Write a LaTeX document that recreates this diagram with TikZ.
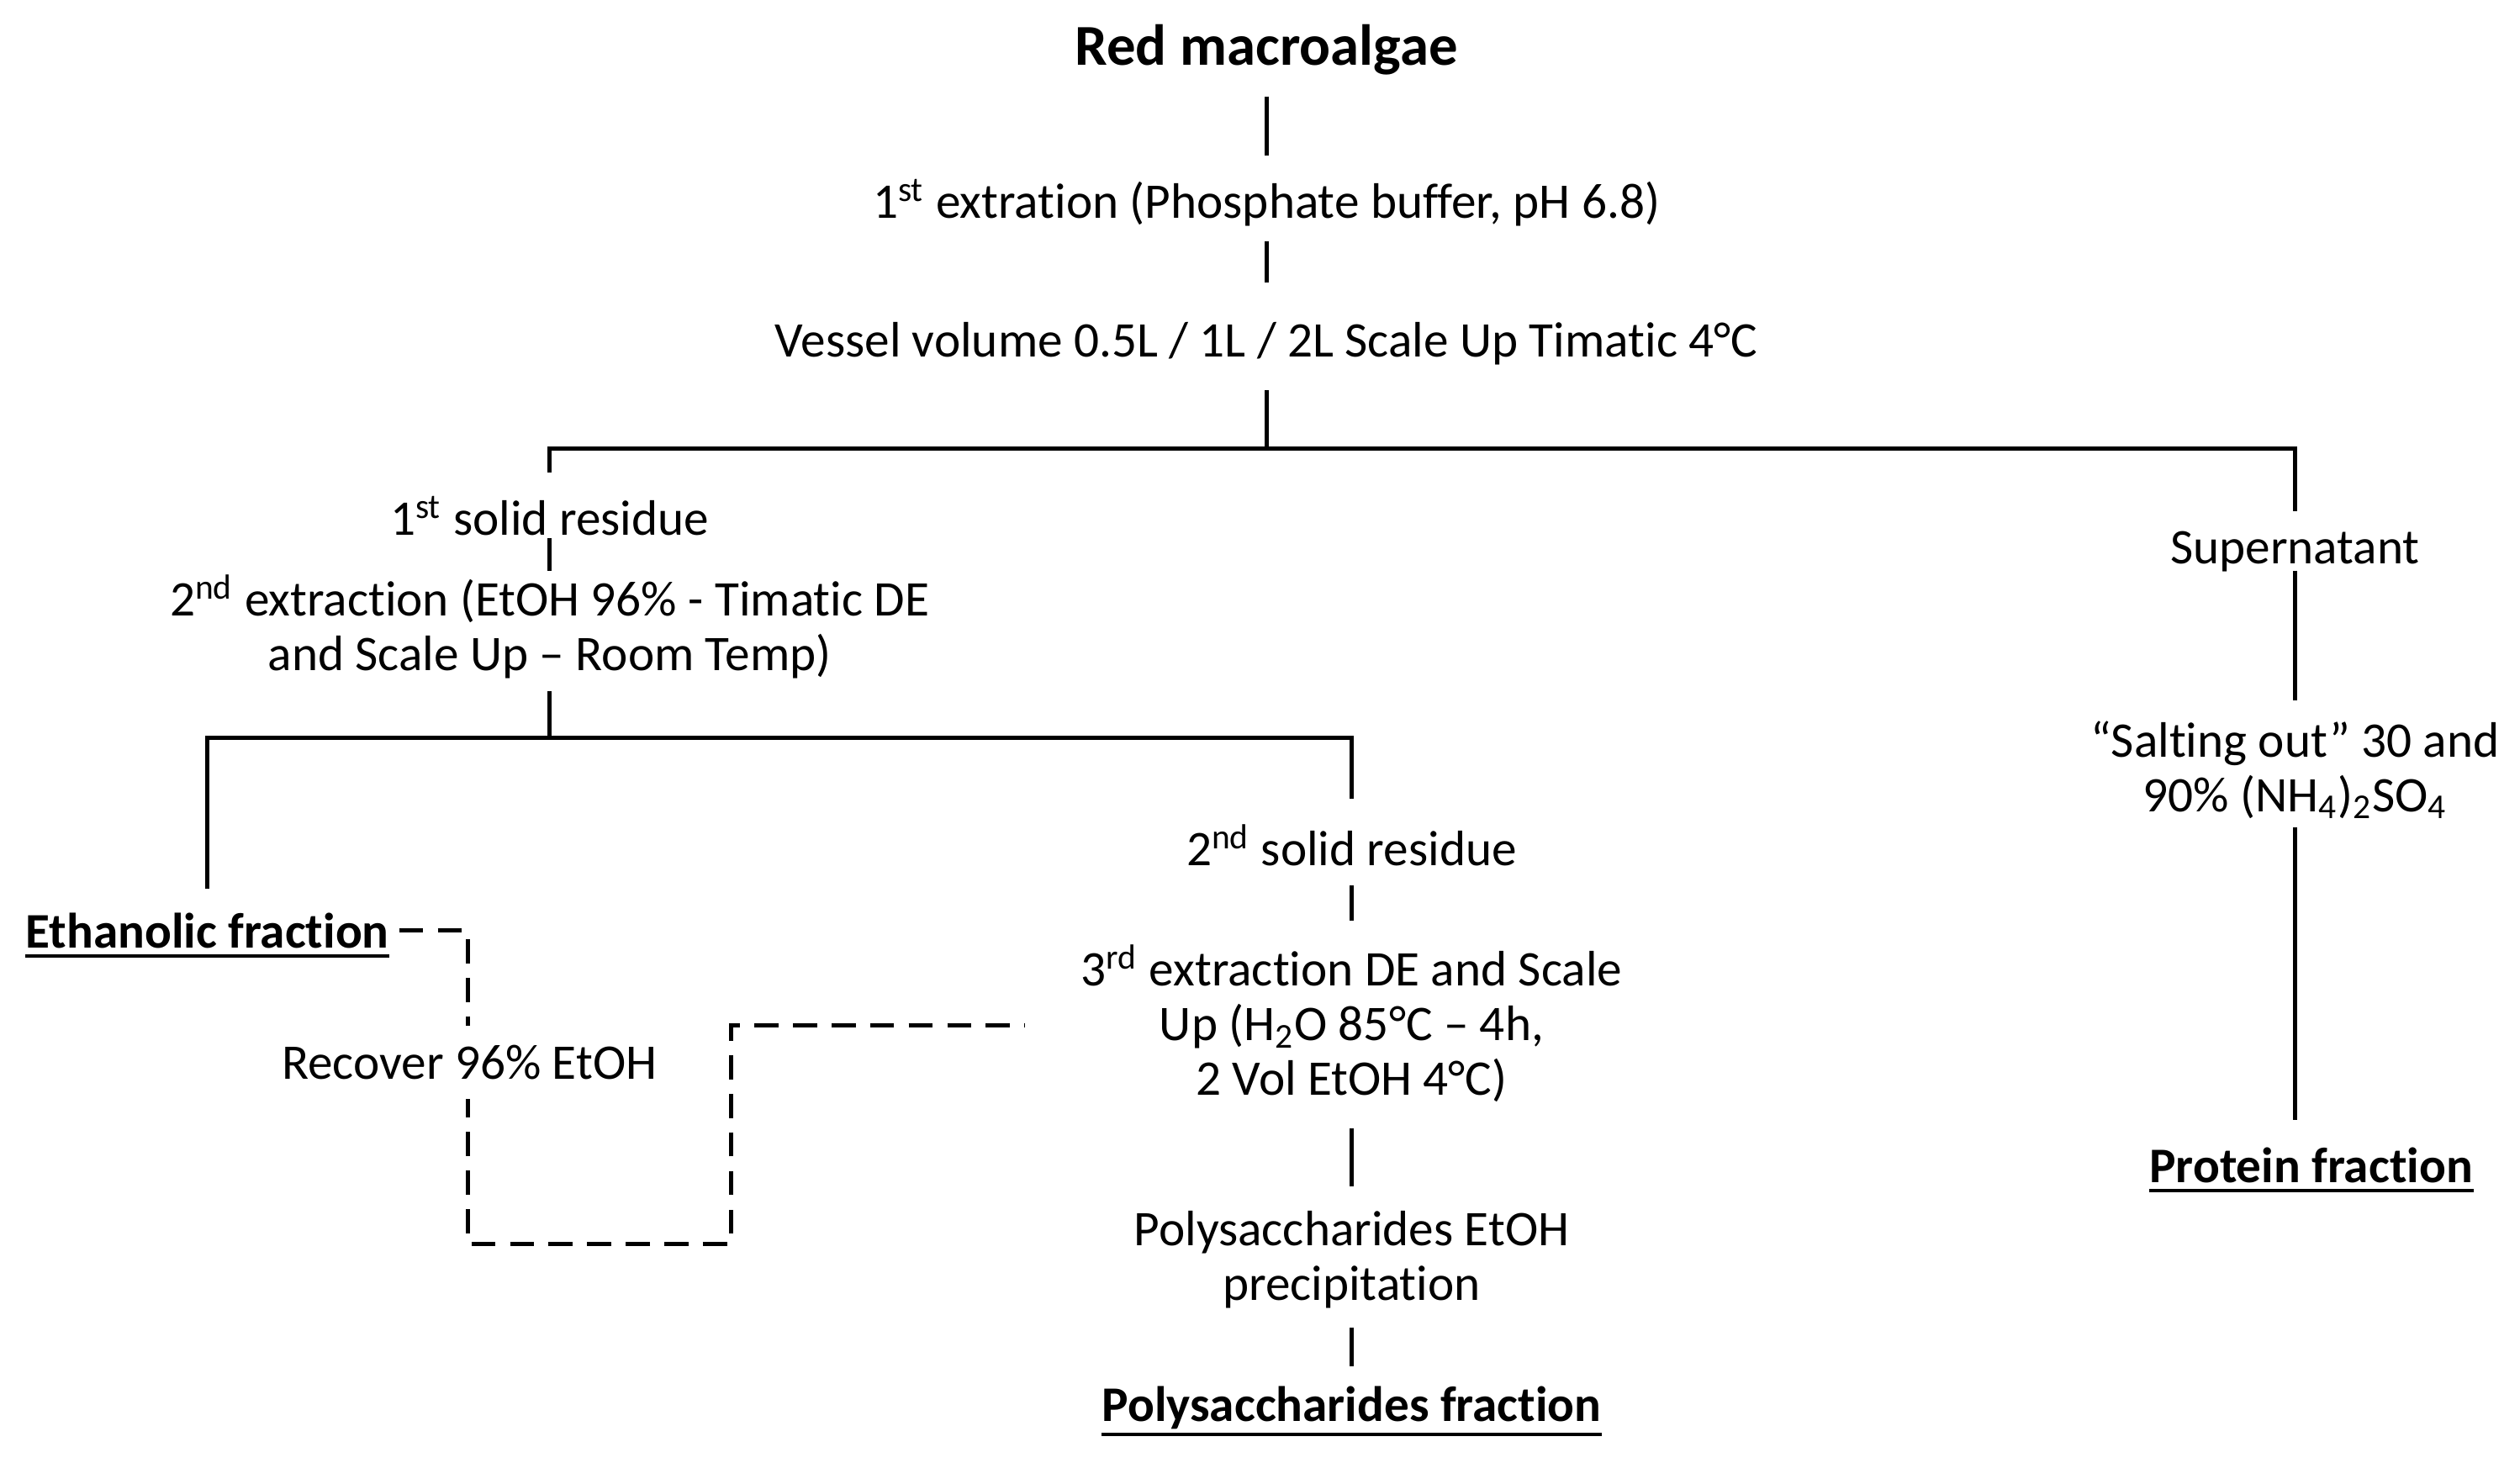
\documentclass[tikz,border=0pt]{standalone}
\usepackage{fontspec}
\setmainfont{Carlito}[Ligatures=TeX, RawFeature={-liga;-clig;-dlig;-calt}]
\begin{document}
\begin{tikzpicture}[x=0.5pt,y=-0.5pt,
  txt/.style={font=\fontsize{15.5pt}{17pt}\selectfont, align=center, inner sep=0pt},
  boldtxt/.style={txt, font=\fontsize{15.5pt}{17pt}\selectfont\bfseries},
  ln/.style={line width=1.35pt},
  ulline/.style={line width=1pt},
  dsh/.style={line width=1.4pt, dash pattern=on 7.5pt off 4.5pt}]
\useasboundingbox (0,0) rectangle (1568,910);

% nodes
\node[txt, font=\fontsize{18pt}{20pt}\selectfont\bfseries] (red) at (788,31) {Red macroalgae};
\node[txt] (ext1) at (788,126) {1\textsuperscript{st} extration (Phosphate buffer, pH 6.8)};
\node[txt] (vessel) at (788,214) {Vessel volume 0.5L / 1L / 2L Scale Up Timatic 4°C};
\coordinate (j1) at (788,279);
\node[txt] (res1) at (342,321) {1\textsuperscript{st} solid residue};
\node[txt] (super) at (1428,343) {Supernatant};
\node[txt] (ext2) at (342,390) {2\textsuperscript{nd} extraction (EtOH 96\% - Timatic DE\\and Scale Up -- Room Temp)};
\coordinate (j2) at (342,459);
\node[boldtxt] (eth) at (129,579) {Ethanolic fraction};
\node[txt] (res2) at (841,526) {2\textsuperscript{nd} solid residue};
\node[txt] (ext3) at (841,637) {3\textsuperscript{rd} extraction DE and Scale\\Up (H\textsubscript{2}O 85°C -- 4h,\\2 Vol EtOH 4°C)};
\node[txt] (prec) at (841,784) {Polysaccharides EtOH\\precipitation};
\node[boldtxt] (poly) at (841,876) {Polysaccharides fraction};
\node[txt] (salt) at (1428,479) {“Salting out” 30 and\\90\% (NH\textsubscript{4})\textsubscript{2}SO\textsubscript{4}};
\node[boldtxt] (prot) at (1438,725) {Protein fraction};

% underlines
\draw[ulline] ([yshift=-2.5pt]eth.base west) -- ([yshift=-2.5pt]eth.base east);
\draw[ulline] ([yshift=-4pt]poly.base west) -- ([yshift=-4pt]poly.base east);
\draw[ulline] ([yshift=-2.5pt]prot.base west) -- ([yshift=-2.5pt]prot.base east);

% solid connectors
\draw[ln, shorten <=14.5pt, shorten >=14.5pt] (red.center) -- (ext1.center);
\draw[ln, shorten <=12pt, shorten >=19pt] (ext1.center) -- (vessel.center);
\draw[ln, shorten <=14.5pt] (vessel.center) -- (j1);
\draw[ln, shorten <=13.5pt, shorten >=12.5pt] (res1.center) |- (j1) -| (super.center);
\draw[ln, shorten <=7pt, shorten >=17.5pt] (res1.center) -- (ext2.center);
\draw[ln, shorten <=20pt] (ext2.center) -- (j2);
\draw[ln, shorten <=13pt, shorten >=14.5pt] (eth.center) |- (j2) -| (res2.center);
\draw[ln, shorten <=12.5pt, shorten >=32pt] (res2.center) -- (ext3.center);
\draw[ln, shorten <=32.5pt, shorten >=23pt] (ext3.center) -- (prec.center);
\draw[ln, shorten <=21pt, shorten >=13pt] (prec.center) -- (poly.center);
\draw[ln, shorten <=6pt, shorten >=21.5pt] (super.center) -- (salt.center);
\draw[ln, shorten <=18pt, shorten >=14pt] (salt.center) -- (salt.center |- prot.center);

% dashed recovery loop
\coordinate (d2) at (291,774);
\coordinate (d3) at (455,774);
\coordinate (d5) at (638,638);
\draw[dsh, shorten <=3pt] (eth.east) -| (d2) -- (d3) |- (d5);
\node[txt, fill=white, inner xsep=2pt, inner ysep=6pt] (rec) at (292,661) {Recover 96\% EtOH};
\end{tikzpicture}
\end{document}
